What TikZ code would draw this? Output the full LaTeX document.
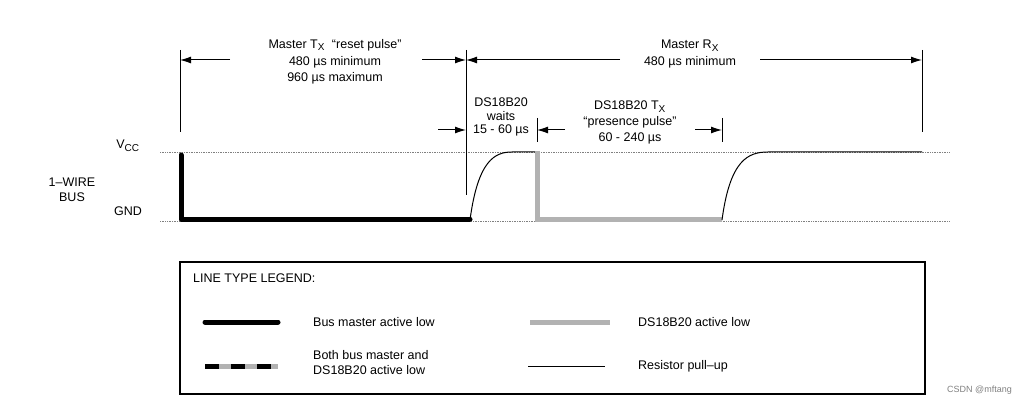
\documentclass[tikz,border=0pt]{standalone}
\usepackage{fontspec}
\setmainfont{Liberation Sans}
\usetikzlibrary{arrows.meta}
\newcommand{\myx}[1]{\textsubscript{\fontsize{10}{10}\selectfont #1}}
\begin{document}
\begin{tikzpicture}[x=1pt,y=-1pt,
  txt/.style={font=\fontsize{12.5}{15}\selectfont,inner sep=0pt,align=center},
  dim/.style={-{Latex[length=11pt,width=7pt]},line width=1pt},
  ext/.style={line width=0.9pt},
  ref/.style={densely dotted,gray,line width=0.7pt},
  master/.style={line width=5pt,line cap=round,line join=round},
  slave/.style={line width=5pt,gray!60},
  pull/.style={line width=1pt}]
\useasboundingbox (0,0) rectangle (1019,406);
% reference lines
\draw[ref] (160,152) -- (950,152);
\draw[ref] (160,221) -- (950,221);
% extension lines
\coordinate (x1t) at (180,50); \coordinate (x1b) at (180,132);
\coordinate (x2t) at (466,50); \coordinate (x2b) at (466,195);
\coordinate (x3t) at (537,118); \coordinate (x3b) at (537,142);
\coordinate (x4t) at (722,118); \coordinate (x4b) at (722,142);
\coordinate (x5t) at (922,50); \coordinate (x5b) at (922,132);
\foreach \a in {1,...,5} \draw[ext] (x\a t) -- (x\a b);
% dimension arrows
\coordinate (a1) at (230,60); \coordinate (e1) at (180,60);
\coordinate (a2) at (422,60); \coordinate (e2) at (466,60);
\coordinate (a3) at (620,60); \coordinate (e3) at (466,60);
\coordinate (a4) at (760,60); \coordinate (e4) at (922,60);
\coordinate (a5) at (438,130); \coordinate (e5) at (466,130);
\coordinate (a6) at (565,130); \coordinate (e6) at (537,130);
\coordinate (a7) at (695,130); \coordinate (e7) at (722,130);
\foreach \a in {1,...,7} \draw[dim] (a\a) -- (e\a);
% labels
\node[txt] (l1) at (335,45) {Master T\myx{X}\ \ “reset pulse”};
\node[txt] (l2) at (335,62) {480 µs minimum};
\node[txt] (l3) at (335,78) {960 µs maximum};
\node[txt] (l4) at (690,46) {Master R\myx{X}};
\node[txt] (l5) at (690,62) {480 µs minimum};
\node[txt] (l6) at (501,102) {DS18B20};
\node[txt] (l7) at (501,116) {waits};
\node[txt] (l8) at (501,130) {15 - 60 µs};
\node[txt] (l9) at (630,107) {DS18B20 T\myx{X}};
\node[txt] (l10) at (630,122) {“presence pulse”};
\node[txt] (l11) at (630,138) {60 - 240 µs};
\node[txt] (vcc) at (128,146) {V\myx{CC}};
\node[txt] (gnd) at (128,211) {GND};
\node[txt] (bus) at (72,190) {1–WIRE\\BUS};
% waveform
\draw[master] (181,155) -- (181,219) -- (470,219);
\draw[pull] (470,220) .. controls (478,160) and (495,152) .. (512,152) -- (537,152);
\draw[slave] (537,151) -- (537,219) -- (722,219);
\draw[pull] (722,220) .. controls (730,160) and (748,152) .. (768,152) -- (922,152);
% legend
\draw[line width=1.4pt] (180,262) rectangle (925,394);
\node[txt,anchor=west] (lg) at (193,278) {LINE TYPE LEGEND:};
\draw[master] (205,322) -- (278,322);
\node[txt,anchor=west] (lg1) at (313,322) {Bus master active low};
\draw[slave] (530,322) -- (610,322);
\node[txt,anchor=west] (lg2) at (638,322) {DS18B20 active low};
\draw[slave] (205,366) -- (278,366);
\draw[line width=5pt,dash pattern=on 14pt off 12pt] (205,366) -- (278,366);
\node[txt,anchor=west,align=left] (lg3) at (313,363) {Both bus master and\\DS18B20 active low};
\draw[pull] (528,366) -- (605,366);
\node[txt,anchor=west] (lg4) at (638,366) {Resistor pull–up};
\node[font=\fontsize{9}{10}\selectfont,text=gray,anchor=east,inner sep=0pt] (wm) at (1012,390) {CSDN @mftang};
\end{tikzpicture}
\end{document}
